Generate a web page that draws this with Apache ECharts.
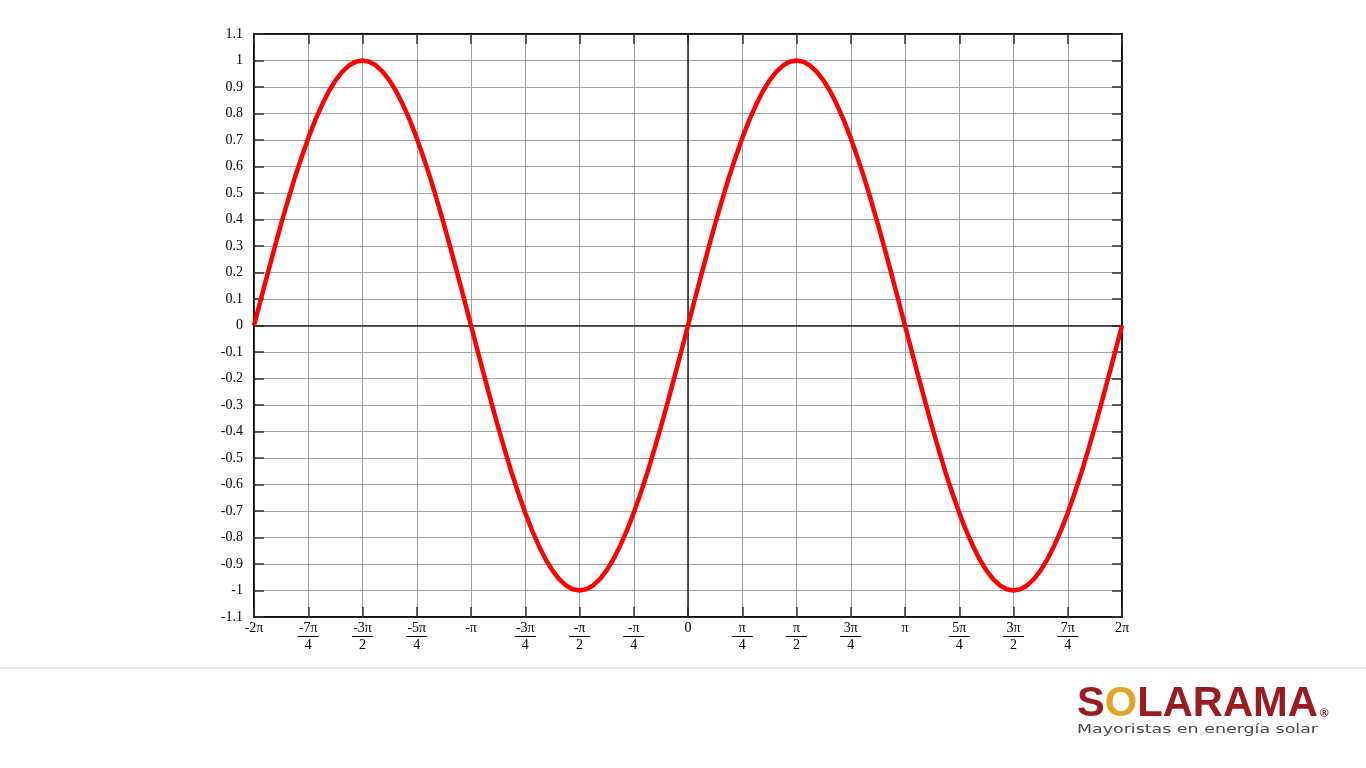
<!DOCTYPE html>
<html>
<head>
<meta charset="utf-8">
<script src="https://cdn.jsdelivr.net/npm/echarts@6/dist/echarts.min.js"></script>
<style>
html,body{margin:0;padding:0;background:#fff;}
#chart{width:1366px;height:768px;}
</style>
</head>
<body>
<div id="chart"></div>
<script>
// x positions in units of π/32
var xSteps = [-64,-63,-62,-61,-60,-59,-58,-57,-56,-55,-54,-53,-52,-51,-50,-49,-48,-47,-46,-45,-44,-43,-42,-41,-40,-39,-38,-37,-36,-35,-34,-33,
-32,-31,-30,-29,-28,-27,-26,-25,-24,-23,-22,-21,-20,-19,-18,-17,-16,-15,-14,-13,-12,-11,-10,-9,-8,-7,-6,-5,-4,-3,-2,-1,
0,1,2,3,4,5,6,7,8,9,10,11,12,13,14,15,16,17,18,19,20,21,22,23,24,25,26,27,28,29,30,31,
32,33,34,35,36,37,38,39,40,41,42,43,44,45,46,47,48,49,50,51,52,53,54,55,56,57,58,59,60,61,62,63,64];
// values
var yValues = [0,0.098,0.195,0.290,0.383,0.471,0.556,0.634,0.707,0.773,0.831,0.882,0.924,0.957,0.981,0.995,
1,0.995,0.981,0.957,0.924,0.882,0.831,0.773,0.707,0.634,0.556,0.471,0.383,0.290,0.195,0.098,
0,-0.098,-0.195,-0.290,-0.383,-0.471,-0.556,-0.634,-0.707,-0.773,-0.831,-0.882,-0.924,-0.957,-0.981,-0.995,
-1,-0.995,-0.981,-0.957,-0.924,-0.882,-0.831,-0.773,-0.707,-0.634,-0.556,-0.471,-0.383,-0.290,-0.195,-0.098,
0,0.098,0.195,0.290,0.383,0.471,0.556,0.634,0.707,0.773,0.831,0.882,0.924,0.957,0.981,0.995,
1,0.995,0.981,0.957,0.924,0.882,0.831,0.773,0.707,0.634,0.556,0.471,0.383,0.290,0.195,0.098,
0,-0.098,-0.195,-0.290,-0.383,-0.471,-0.556,-0.634,-0.707,-0.773,-0.831,-0.882,-0.924,-0.957,-0.981,-0.995,
-1,-0.995,-0.981,-0.957,-0.924,-0.882,-0.831,-0.773,-0.707,-0.634,-0.556,-0.471,-0.383,-0.290,-0.195,-0.098,0];
var xTickLabels = ['-2π','-7π/4','-3π/2','-5π/4','-π','-3π/4','-π/2','-π/4','0','π/4','π/2','3π/4','π','5π/4','3π/2','7π/4','2π'];
var yTickLabels = ['-1.1','-1','-0.9','-0.8','-0.7','-0.6','-0.5','-0.4','-0.3','-0.2','-0.1','0','0.1','0.2','0.3','0.4','0.5','0.6','0.7','0.8','0.9','1','1.1'];

var seriesData = xSteps.map(function(x,i){return [x, yValues[i]];});
var chart = echarts.init(document.getElementById('chart'));
var serif = 'Liberation Serif';

function xFmt(v){
  var idx = Math.round(v/8) + 8;
  var s = xTickLabels[idx];
  if (s === undefined) return '';
  if (s.indexOf('/') >= 0) {
    var p = s.split('/');
    return '{n|' + p[0] + '}\n{b| }\n{d|' + p[1] + '}';
  }
  return '{n|' + s + '}';
}
function yFmt(v){
  var idx = Math.round(v*10) + 11;
  return yTickLabels[idx] === undefined ? '' : yTickLabels[idx];
}

var tickStyle = {show:true, inside:true, length:10, lineStyle:{color:'#333', width:1.5}};
var gridLine = {show:true, lineStyle:{color:'#a3a3a3', width:1}};

chart.setOption({
  animation:false,
  backgroundColor:'#fff',
  grid:{left:254, right:244, top:34, bottom:151, show:true, borderColor:'#000', borderWidth:1.5},
  xAxis:[{
    type:'value', min:-64, max:64, interval:8,
    axisLine:{show:true, onZero:false, lineStyle:{color:'#000', width:1.5}},
    axisTick:tickStyle,
    splitLine:gridLine,
    axisLabel:{
      margin:5, formatter:xFmt, color:'#000',
      rich:{
        n:{fontFamily:serif, fontSize:14, color:'#000', lineHeight:13, align:'center'},
        b:{width:21, height:1, lineHeight:3, fontSize:1, backgroundColor:'#000', align:'center'},
        d:{fontFamily:serif, fontSize:14, color:'#000', lineHeight:14, align:'center'}
      }
    }
  },{
    type:'value', min:-64, max:64, interval:8, position:'top',
    axisLine:{show:true, onZero:false, lineStyle:{color:'#000', width:1.5}},
    axisTick:tickStyle, axisLabel:{show:false}, splitLine:{show:false}
  }],
  yAxis:[{
    type:'value', min:-1.1, max:1.1, interval:0.1,
    axisLine:{show:true, onZero:false, lineStyle:{color:'#000', width:1.5}},
    axisTick:tickStyle,
    splitLine:gridLine,
    axisLabel:{margin:11, formatter:yFmt, fontFamily:serif, fontSize:14, color:'#000'}
  },{
    type:'value', min:-1.1, max:1.1, interval:0.1, position:'right',
    axisLine:{show:true, onZero:false, lineStyle:{color:'#000', width:1.5}},
    axisTick:tickStyle, axisLabel:{show:false}, splitLine:{show:false}
  }],
  series:[{
    type:'line', data:seriesData, smooth:false, symbol:'none',
    lineStyle:{color:'#ff0000', width:4.5, join:'round'},
    markLine:{
      silent:true, symbol:'none', label:{show:false},
      lineStyle:{color:'#222', width:1.5, type:'solid'},
      data:[{xAxis:0},{yAxis:0}]
    },
    z:5
  }],
  graphic:[
    {type:'line', shape:{x1:0, y1:668, x2:1366, y2:668}, style:{stroke:'#d0d0d0', lineWidth:1}},
    {type:'text', x:1077, y:683, scaleX:0.97, style:{
      x:0, y:0, verticalAlign:'top',
      text:'{r|S}{y|O}{r|LARAMA}{g|®}',
      rich:{
        r:{fontFamily:'Liberation Sans', fontWeight:'bold', fontSize:43, fill:'#9b1c20'},
        y:{fontFamily:'Liberation Sans', fontWeight:'bold', fontSize:43, fill:'#e3a526'},
        g:{fontFamily:'Liberation Sans', fontWeight:'bold', fontSize:12, fill:'#9b1c20', padding:[18,0,0,2]}
      }
    }},
    {type:'text', x:1077, y:723, scaleX:1.34, style:{
      x:0, y:0, verticalAlign:'top',
      text:'Mayoristas en energía solar', fontFamily:'DejaVu Sans', fontSize:13, fill:'#4a4a4a'
    }}
  ]
});
</script>
</body>
</html>
